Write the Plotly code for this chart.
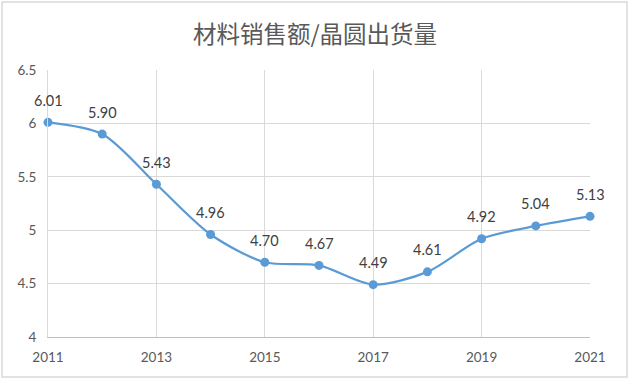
import plotly.graph_objects as go

years = [2011, 2012, 2013, 2014, 2015, 2016, 2017, 2018, 2019, 2020, 2021]
values = [6.01, 5.90, 5.43, 4.96, 4.70, 4.67, 4.49, 4.61, 4.92, 5.04, 5.13]
labels = ["6.01", "5.90", "5.43", "4.96", "4.70", "4.67", "4.49", "4.61", "4.92", "5.04", "5.13"]
x_ticks = [2011, 2013, 2015, 2017, 2019, 2021]
y_ticks = [4, 4.5, 5, 5.5, 6, 6.5]
y_ticktext = ["4", "4.5", "5", "5.5", "6", "6.5"]
title = "材料销售额/晶圆出货量"

W, H = 630, 380
ml, mr, mt, mb = 48, 40, 70, 43
pw, ph = W - ml - mr, H - mt - mb

fig = go.Figure()
fig.add_trace(go.Scatter(
    x=years, y=values, mode="lines+markers",
    line=dict(color="#5B9BD5", width=2.25, shape="spline", smoothing=0.8),
    marker=dict(color="#5B9BD5", size=9),
    cliponaxis=False, showlegend=False, hoverinfo="skip",
))

for xv, yv, lab in zip(years, values, labels):
    fig.add_annotation(x=xv, y=yv, text=lab, showarrow=False, yshift=22,
                       xanchor="center", yanchor="middle",
                       font=dict(family="Lato, Open Sans, sans-serif", size=14.5, color="#404040"))

grid = "#D9D9D9"
fig.update_layout(
    width=W, height=H,
    margin=dict(l=ml, r=mr, t=mt, b=mb),
    paper_bgcolor="white", plot_bgcolor="white",
    title=dict(text=title, x=0.5, xanchor="center", y=1 - 35 / H, yanchor="middle",
               font=dict(family="Noto Sans CJK SC", size=23.5, color="#595959")),
    xaxis=dict(range=[2011, 2021], tickvals=x_ticks, ticktext=[str(t) for t in x_ticks],
               showgrid=True, gridcolor=grid, gridwidth=1, zeroline=False,
               showline=True, linecolor="#BFBFBF", linewidth=1, mirror=False,
               ticks="", ticklabelstandoff=8,
               tickfont=dict(family="Lato, Open Sans, sans-serif", size=13.5, color="#595959")),
    yaxis=dict(range=[4, 6.5], tickvals=y_ticks, ticktext=y_ticktext,
               showgrid=True, gridcolor=grid, gridwidth=1, zeroline=False,
               showline=True, linecolor=grid, linewidth=1,
               ticks="", ticklabelstandoff=8,
               tickfont=dict(family="Lato, Open Sans, sans-serif", size=13.5, color="#595959")),
)

# outer chart border
x0 = (2 - ml) / pw
x1 = (W - 3 - ml) / pw
y0 = -(mb - 3) / ph
y1 = 1 + (mt - 2) / ph
fig.add_shape(type="rect", xref="paper", yref="paper", x0=x0, x1=x1, y0=y0, y1=y1,
              line=dict(color="#D9D9D9", width=1.5), layer="below")

fig.write_html("out.html")
